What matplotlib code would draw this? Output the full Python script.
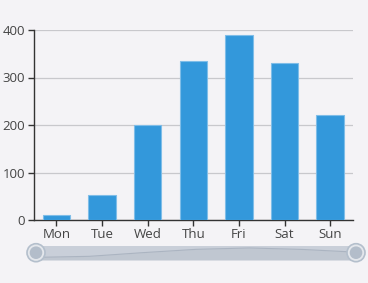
import matplotlib.pyplot as plt
from matplotlib.patches import Circle
import numpy as np

days = ['Mon', 'Tue', 'Wed', 'Thu', 'Fri', 'Sat', 'Sun']
values = [10, 52, 200, 334, 390, 330, 220]
yticks = [0, 100, 200, 300, 400]

plt.rcParams['font.family'] = ['Open Sans', 'DejaVu Sans']
bg = '#f4f3f6'

fig = plt.figure(figsize=(3.68, 2.83), dpi=100, facecolor=bg)
ax = fig.add_axes([33.5 / 368, 63 / 283, 319.5 / 368, 190 / 283], facecolor=bg)

x = np.arange(len(days))
ax.bar(x, values, width=0.6, color='#3398db', edgecolor='#7fbde8', linewidth=0.8, zorder=3)
ax.set_xlim(-0.5, len(days) - 0.5)
ax.set_ylim(0, 400)
ax.set_yticks(yticks)
ax.set_xticks(x)
ax.set_xticklabels(days)
ax.grid(axis='y', color='#c8c8cc', linewidth=0.9, zorder=0)
for s in ['top', 'right']:
    ax.spines[s].set_visible(False)
for s in ['left', 'bottom']:
    ax.spines[s].set_color('#333333')
    ax.spines[s].set_linewidth(1)
ax.tick_params(colors='#333333', labelcolor='#444444', labelsize=9.5, length=4, width=1, pad=2)

# data zoom slider
sx0, sx1 = 36 / 368, 356 / 368
sax = fig.add_axes([sx0, 23 / 283, sx1 - sx0, 14 / 283], facecolor='#c9cfd9')
for s in sax.spines.values():
    s.set_visible(False)
sax.set_xticks([])
sax.set_yticks([])
sax.set_xlim(0, len(days) - 1)
sax.set_ylim(0, 1)
shadow = 0.17 + 0.69 * np.array(values) / max(values)
sax.fill_between(x, 0, shadow, color='#c0c7d1', linewidth=0)
sax.plot(x, shadow, color='#abb4c1', linewidth=0.8)

for hx in [sx0, sx1]:
    fig.patches.append(Circle((hx * 368, 283 - 252.7), 9, transform=None,
                              facecolor='#e4e7ec', edgecolor='#b4bfcc', linewidth=1.2))
    fig.patches.append(Circle((hx * 368, 283 - 252.7), 6.3, transform=None,
                              facecolor='#b3bdca', edgecolor='none'))

plt.savefig('out.png', dpi=100, facecolor=bg)
